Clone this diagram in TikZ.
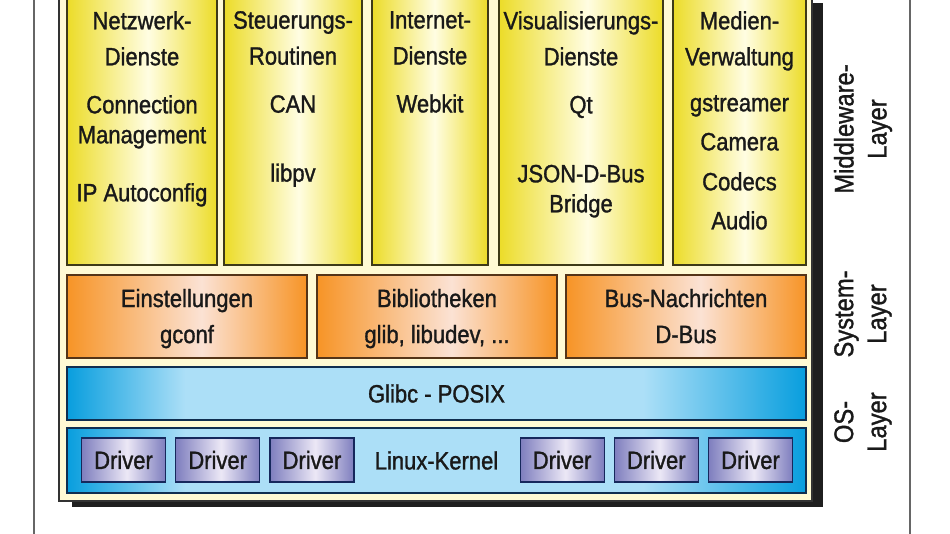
\documentclass[tikz,border=0pt]{standalone}
\usepackage{fontspec}
\setmainfont{Liberation Sans}[FakeStretch=0.88, FakeBold=1.2]
\usetikzlibrary{positioning}

\definecolor{cream}{RGB}{255,250,212}
\definecolor{yelEdge}{RGB}{236,220,40}
\definecolor{yelMid}{RGB}{255,253,226}
\definecolor{yelLine}{RGB}{62,58,24}
\definecolor{orgEdge}{RGB}{247,148,38}
\definecolor{orgMid}{RGB}{251,226,212}
\definecolor{orgLine}{RGB}{84,52,24}
\definecolor{bluEdge}{RGB}{8,158,222}
\definecolor{bluMid}{RGB}{172,223,247}
\definecolor{bluLine}{RGB}{16,46,80}
\definecolor{drvEdge}{RGB}{126,126,190}
\definecolor{drvMid}{RGB}{236,232,246}
\definecolor{drvLine}{RGB}{22,40,92}

\pgfdeclarehorizontalshading{mwshade}{100bp}{color(0bp)=(yelEdge); color(25bp)=(yelEdge); color(52bp)=(yelMid); color(75bp)=(yelEdge); color(100bp)=(yelEdge)}
\pgfdeclarehorizontalshading{sysshade}{100bp}{color(0bp)=(orgEdge); color(25bp)=(orgEdge); color(53bp)=(orgMid); color(75bp)=(orgEdge); color(100bp)=(orgEdge)}
\pgfdeclarehorizontalshading{osshade}{100bp}{color(0bp)=(bluEdge); color(25bp)=(bluEdge); color(33bp)=(bluMid); color(64bp)=(bluMid); color(75bp)=(bluEdge); color(100bp)=(bluEdge)}
\pgfdeclarehorizontalshading{drvshade}{100bp}{color(0bp)=(drvEdge); color(25bp)=(drvEdge); color(52bp)=(drvMid); color(75bp)=(drvEdge); color(100bp)=(drvEdge)}

\begin{document}
\begin{tikzpicture}[
    x = 1pt, y = -1pt,
    every node/.style = {font=\fontsize{25}{31}\selectfont, text=black!90, inner sep=0pt},
    mwbox/.style = {draw=yelLine, line width=1.2pt, shading=mwshade, minimum height=273pt},
    sysbox/.style = {draw=orgLine, line width=1.2pt, shading=sysshade, minimum width=240pt, minimum height=83pt, align=center, text depth=1pt, font=\fontsize{25}{36}\selectfont},
    osbox/.style = {draw=bluLine, line width=1.2pt, shading=osshade, minimum width=739pt},
    drv/.style = {draw=drvLine, line width=1.2pt, shading=drvshade, minimum width=84pt, minimum height=44pt},
    coltext/.style = {anchor=north, align=center},
    sidelbl/.style = {rotate=90, align=center, font=\fontsize{27}{33}\selectfont}
]
\useasboundingbox (0,0) rectangle (950,534);

% frame lines
\draw[black!60, line width=1.3pt] (34,-5) -- (34,540);
\draw[black!60, line width=1.3pt] (910,-5) -- (910,540);

% stack with shadow
\fill[black!88] (72,3) rectangle (823,507);
\draw[fill=cream, draw=black!80, line width=1.3pt] (59,-15) rectangle (812,501);

% Middleware layer
\node[mwbox, minimum width=150pt] (netz) at (142,128.5) {};
\node[mwbox, minimum width=138pt] (steu) at (293,128.5) {};
\node[mwbox, minimum width=116pt] (inet) at (430,128.5) {};
\node[mwbox, minimum width=164pt] (visu) at (581,128.5) {};
\node[mwbox, minimum width=133pt] (medi) at (739.5,128.5) {};

\node[coltext] (netztxt) at (142,11) {Netzwerk-\\[5pt]Dienste\\[17pt]Connection\\[-1pt]Management\\[27pt]IP Autoconfig};
\node[coltext] (steutxt) at (293,11) {Steuerungs-\\[5pt]Routinen\\[17pt]CAN\\[38pt]libpv};
\node[coltext] (inettxt) at (430,11) {Internet-\\[5pt]Dienste\\[17pt]Webkit};
\node[coltext] (visutxt) at (581,11) {Visualisierungs-\\[5pt]Dienste\\[17pt]Qt\\[38pt]JSON-D-Bus\\[-1pt]Bridge};
\node[coltext] (meditxt) at (739.5,11) {Medien-\\[5pt]Verwaltung\\[15pt]gstreamer\\[8pt]Camera\\[9pt]Codecs\\[8pt]Audio};

% System layer
\node[sysbox] (einst) at (187,316.5) {Einstellungen\\gconf};
\node[sysbox] (bibl) at (437,316.5) {Bibliotheken\\glib, libudev, ...};
\node[sysbox] (busn) at (686,316.5) {Bus-Nachrichten\\D-Bus};

% OS layer
\node[osbox, minimum height=53pt] (glibc) at (436.5,393.5) {Glibc - POSIX};
\node[osbox, minimum height=65pt] (kernel) at (436.5,460.5) {Linux-Kernel};

\node[drv] (drv1) at (123.5,460) {Driver};
\node[drv, right=9pt of drv1] (drv2) {Driver};
\node[drv, right=9pt of drv2] (drv3) {Driver};
\node[drv] (drv6) at (750.5,460) {Driver};
\node[drv, left=9pt of drv6] (drv5) {Driver};
\node[drv, left=9pt of drv5] (drv4) {Driver};

% layer labels
\node[sidelbl] (mwlayer) at (863,129) {Middleware-\\Layer};
\node[sidelbl] (syslayer) at (863,314) {System-\\Layer};
\node[sidelbl] (oslayer) at (863,422) {OS-\\Layer};

\end{tikzpicture}
\end{document}
